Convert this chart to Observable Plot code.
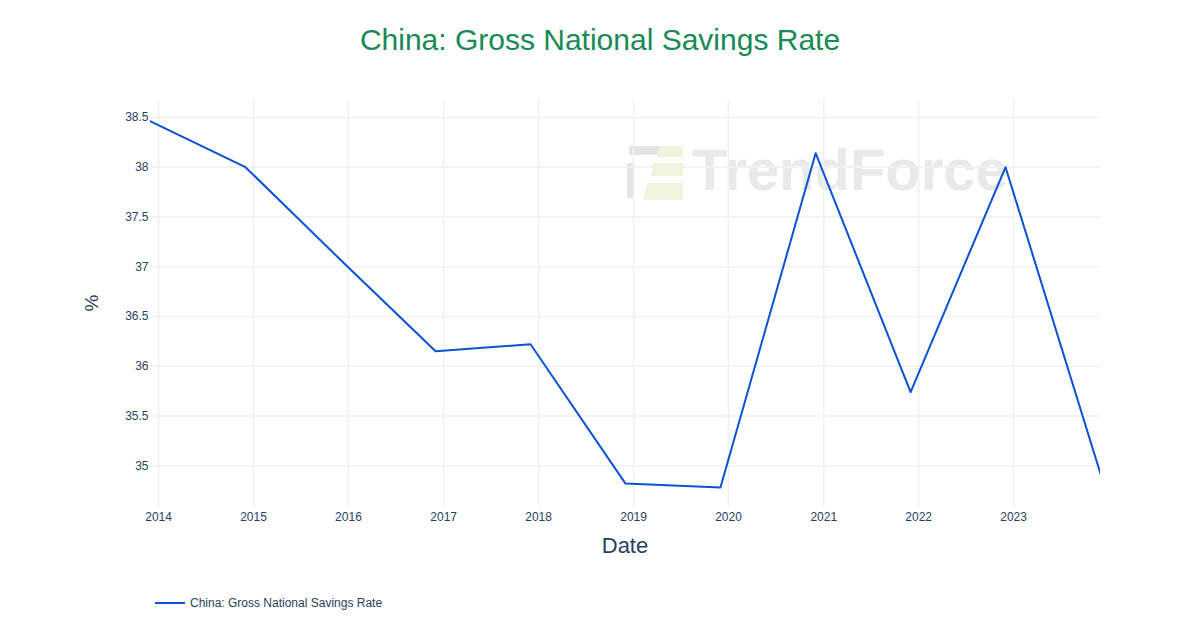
<!DOCTYPE html>
<html>
<head>
<meta charset="utf-8">
<script src="https://cdn.jsdelivr.net/npm/d3@7"></script>
<script src="https://cdn.jsdelivr.net/npm/@observablehq/plot@0.6"></script>
<style>
  html, body { margin: 0; padding: 0; background: #fff; }
  #wrap { position: relative; width: 1200px; height: 630px; overflow: hidden; font-family: "Liberation Sans", Arial, sans-serif; color: #2a3f5f; }
  #title { position: absolute; left: 0; top: 23px; width: 1200px; text-align: center; font-size: 30px; color: #178a55; }
  #chart { position: absolute; left: 0; top: 0; z-index: 2; }
  #wm { position: absolute; left: 620px; top: 140px; z-index: 1; width: 400px; height: 64px; }
  #wmtext { position: absolute; left: 72px; top: -4px; font-size: 58px; font-weight: bold; color: #e9e9e9; font-family: "Liberation Sans", Arial, sans-serif; }
  #xlabel { position: absolute; left: 525px; width: 200px; text-align: center; top: 533px; font-size: 22px; color: #2a3f5f; z-index: 3; }
  #ylabel { position: absolute; left: 84px; top: 292px; font-size: 19px; color: #2a3f5f; transform: rotate(-90deg); transform-origin: center; z-index: 3; }
  #legend { position: absolute; left: 155px; top: 596px; font-size: 12px; color: #2a3f5f; display: flex; align-items: center; z-index: 3; }
  #legend .sw { width: 30px; height: 2px; background: #0a52d6; margin-right: 5px; }
</style>
</head>
<body>
<div id="wrap">
  <div id="title">China: Gross National Savings Rate</div>
  <div id="wm">
    <svg width="70" height="64" style="position:absolute;left:0;top:0">
      <path d="M9 6 L41 6 L37 15 L9 15 Z" fill="#e4e4e4"/>
      <rect x="7" y="23" width="6" height="35" rx="2" fill="#e4e4e4"/>
      <path d="M41 6 L63 6 L63 17 L37 17 Z" fill="#eef5dc"/>
      <path d="M33 23 L63 23 L63 36 L31 36 Z" fill="#eef5dc"/>
      <path d="M27 43 L63 43 L63 60 L23 60 Z" fill="#eef5dc"/>
    </svg>
    <div id="wmtext">TrendForce</div>
  </div>
  <div id="chart"></div>
  <div id="xlabel">Date</div>
  <div id="ylabel">%</div>
  <div id="legend"><div class="sw"></div><span>China: Gross National Savings Rate</span></div>
</div>
<script>
const dates = ["2013-12-01","2014-12-01","2015-12-01","2016-12-01","2017-12-01","2018-12-01","2019-12-01","2020-12-01","2021-12-01","2022-12-01","2023-12-01"];
const values = [38.46, 38.0, 37.07, 36.15, 36.22, 34.82, 34.78, 38.14, 35.74, 38.0, 34.92];
const xTickYears = ["2014","2015","2016","2017","2018","2019","2020","2021","2022","2023"];
const yTicks = [35, 35.5, 36, 36.5, 37, 37.5, 38, 38.5];

const data = dates.map((d, i) => ({date: new Date(d), value: values[i]}));
const xTicks = xTickYears.map(y => new Date(y + "-01-01"));

const chart = Plot.plot({
  width: 1200,
  height: 630,
  marginTop: 100,
  marginBottom: 124,
  marginLeft: 150,
  marginRight: 100,
  style: {background: "transparent", fontFamily: "'Liberation Sans', Arial, sans-serif", fontSize: "12px", color: "#2a3f5f"},
  x: {type: "utc", domain: [new Date(dates[0]), new Date(dates[dates.length - 1])]},
  y: {domain: [34.59, 38.67]},
  marks: [
    Plot.gridX(xTicks, {stroke: "#f0f1f3", strokeOpacity: 1, strokeWidth: 1.6}),
    Plot.gridY(yTicks, {stroke: "#f0f1f3", strokeOpacity: 1, strokeWidth: 1.6}),
    Plot.axisX(xTicks, {tickSize: 0, tickPadding: 6, tickFormat: d3.utcFormat("%Y"), label: null, fill: "#2a3f5f"}),
    Plot.axisY(yTicks, {tickSize: 0, tickPadding: 2, tickFormat: d => String(d), label: null, fill: "#2a3f5f"}),
    Plot.lineY(data, {x: "date", y: "value", stroke: "#0a52d6", strokeWidth: 2, clip: true})
  ]
});
document.getElementById("chart").appendChild(chart);
</script>
</body>
</html>
